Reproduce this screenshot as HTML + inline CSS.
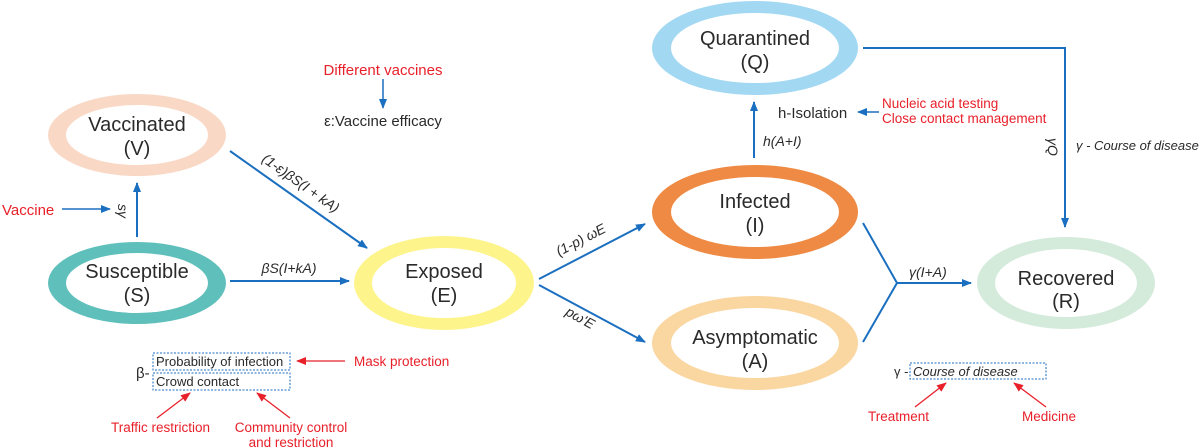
<!DOCTYPE html>
<html><head><meta charset="utf-8"><style>
html,body{margin:0;padding:0;background:#fff;}
svg{display:block;}
text{font-family:"Liberation Sans",sans-serif;}
.n{font-size:20px;fill:#2a2a2a;text-anchor:middle;}
.l{font-size:14px;font-style:italic;fill:#2a2a2a;}
.r{font-size:13.5px;fill:#e8202a;}
.k{font-size:14px;fill:#2a2a2a;}
</style></head><body>
<svg width="1200" height="448" viewBox="0 0 1200 448" xmlns="http://www.w3.org/2000/svg">
<defs>
<marker id="ab" markerWidth="10" markerHeight="8" refX="9" refY="4" orient="auto" markerUnits="userSpaceOnUse"><path d="M0,0 L10,4 L0,8 Z" fill="#1b6fc0"/></marker>
<marker id="ar" markerWidth="10" markerHeight="8" refX="9" refY="4" orient="auto" markerUnits="userSpaceOnUse"><path d="M0,0 L10,4 L0,8 Z" fill="#e8202a"/></marker>
</defs>

<!-- nodes -->
<g>
<ellipse cx="137" cy="135" rx="89" ry="41" fill="#f9d8c6"/><ellipse cx="137" cy="135" rx="71" ry="30" fill="#fff"/>
<text class="n" x="137" y="131">Vaccinated</text><text class="n" x="137" y="155">(V)</text>

<ellipse cx="137" cy="283" rx="89" ry="41" fill="#5fbfbb"/><ellipse cx="137" cy="283" rx="71" ry="30" fill="#fff"/>
<text class="n" x="137" y="278">Susceptible</text><text class="n" x="137" y="302">(S)</text>

<ellipse cx="444" cy="283" rx="90" ry="47" fill="#fdf48c"/><ellipse cx="444" cy="283" rx="72" ry="35" fill="#fff"/>
<text class="n" x="444" y="278">Exposed</text><text class="n" x="444" y="302">(E)</text>

<ellipse cx="755" cy="48" rx="103" ry="47" fill="#a3d8f3"/><ellipse cx="755" cy="48" rx="84" ry="35" fill="#fff"/>
<text class="n" x="755" y="45">Quarantined</text><text class="n" x="755" y="69">(Q)</text>

<ellipse cx="755" cy="212" rx="103" ry="47" fill="#ef8a44"/><ellipse cx="755" cy="212" rx="84" ry="35" fill="#fff"/>
<text class="n" x="755" y="208">Infected</text><text class="n" x="755" y="232">(I)</text>

<ellipse cx="755" cy="343" rx="103" ry="47" fill="#fad6a0"/><ellipse cx="755" cy="343" rx="84" ry="35" fill="#fff"/>
<text class="n" x="755" y="344">Asymptomatic</text><text class="n" x="755" y="368">(A)</text>

<ellipse cx="1066" cy="283" rx="89" ry="46" fill="#d4eadb"/><ellipse cx="1066" cy="283" rx="71" ry="34" fill="#fff"/>
<text class="n" x="1066" y="285">Recovered</text><text class="n" x="1066" y="308">(R)</text>
</g>

<!-- connectors -->
<g stroke="#1b6fc0" stroke-width="2" fill="none">
<line x1="137" y1="237" x2="137" y2="183" marker-end="url(#ab)"/>
<line x1="62" y1="209" x2="110" y2="209" stroke-width="1.5" marker-end="url(#ab)"/>
<line x1="230" y1="151" x2="367" y2="248" marker-end="url(#ab)"/>
<line x1="230" y1="281" x2="349" y2="281" marker-end="url(#ab)"/>
<line x1="539" y1="279" x2="645" y2="224" marker-end="url(#ab)"/>
<line x1="539" y1="285" x2="645" y2="342" marker-end="url(#ab)"/>
<line x1="754" y1="158" x2="754" y2="102" marker-end="url(#ab)"/>
<line x1="879" y1="112" x2="858" y2="112" stroke-width="1.5" marker-end="url(#ab)"/>
<polyline points="863,48 1065,48 1065,227" marker-end="url(#ab)"/>
<polyline points="863,223 897,283 863,342"/>
<line x1="897" y1="283" x2="971" y2="283" marker-end="url(#ab)"/>
<line x1="383" y1="79" x2="383" y2="108" stroke-width="1.5" marker-end="url(#ab)"/>
</g>

<!-- red arrows -->
<g stroke="#e8202a" stroke-width="1.3" fill="none">
<line x1="345" y1="361" x2="297" y2="361" marker-end="url(#ar)"/>
<line x1="157" y1="418" x2="190" y2="393" marker-end="url(#ar)"/>
<line x1="290" y1="418" x2="257" y2="393" marker-end="url(#ar)"/>
<line x1="915" y1="407" x2="946" y2="383" marker-end="url(#ar)"/>
<line x1="1046" y1="407" x2="1014" y2="383" marker-end="url(#ar)"/>
</g>

<!-- labels -->
<text class="r" x="2" y="215" style="font-size:15px">Vaccine</text>
<text class="l" transform="translate(118,204) rotate(90)">sγ</text>
<text class="l" transform="translate(298,187) rotate(35.3)" text-anchor="middle">(1-ε)βS(I + kA)</text>
<text class="l" x="289" y="273" text-anchor="middle">βS(I+kA)</text>
<text class="l" transform="translate(583,244) rotate(-27.4)" text-anchor="middle">(1-p) ωE</text>
<text class="l" transform="translate(578,322) rotate(29)" text-anchor="middle">pω'E</text>
<text class="l" x="763" y="146">h(A+I)</text>
<text class="k" x="778" y="118" style="font-size:15px">h-Isolation</text>
<text class="r" x="882" y="108">Nucleic acid testing</text>
<text class="r" x="882" y="123">Close contact management</text>
<text class="l" transform="translate(1048,138) rotate(90)">γQ</text>
<text class="l" x="1076" y="150" style="font-size:13px">γ - Course of disease</text>
<text class="l" x="909" y="277">γ(I+A)</text>

<text class="r" x="383" y="75" text-anchor="middle" style="font-size:15px">Different vaccines</text>
<text class="k" x="383" y="126" text-anchor="middle" style="font-size:15px">ε:Vaccine efficacy</text>

<rect x="153" y="353" width="137" height="17" fill="none" stroke="#1b6fc0" stroke-width="1" stroke-dasharray="2,1.5"/>
<rect x="153" y="373" width="137" height="17" fill="none" stroke="#1b6fc0" stroke-width="1" stroke-dasharray="2,1.5"/>
<text class="k" x="156" y="366" style="font-size:13px">Probability of infection</text>
<text class="k" x="156" y="386" style="font-size:13px">Crowd contact</text>
<text class="k" x="136" y="378" style="font-size:15px">β-</text>
<text class="r" x="354" y="366">Mask protection</text>
<text class="r" x="111" y="432">Traffic restriction</text>
<text class="r" x="291" y="432" text-anchor="middle">Community control</text>
<text class="r" x="291" y="447" text-anchor="middle">and restriction</text>

<rect x="910" y="363" width="136" height="16" fill="none" stroke="#1b6fc0" stroke-width="1" stroke-dasharray="2,1.5"/>
<text class="l" x="894" y="376" style="font-size:13px;font-style:normal">γ -</text>
<text class="l" x="913" y="376" style="font-size:13px">Course of disease</text>
<text class="r" x="868" y="421">Treatment</text>
<text class="r" x="1022" y="421">Medicine</text>
</svg>
</body></html>
